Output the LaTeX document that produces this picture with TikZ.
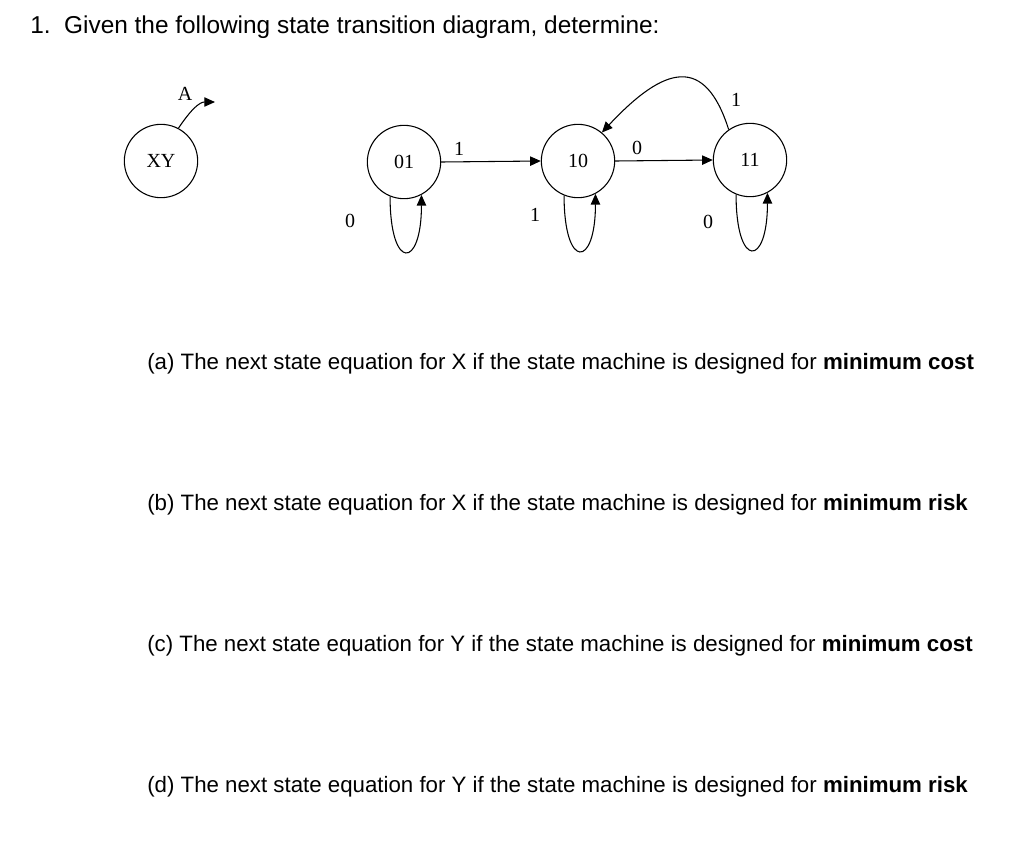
\documentclass[tikz,border=0pt]{standalone}
\usepackage{fontspec}
\setmainfont{Liberation Sans}
\newfontfamily\tnr{Liberation Serif}
\usetikzlibrary{arrows.meta}
\begin{document}
\begin{tikzpicture}[x=0.75pt,y=-0.75pt,
  st/.style={draw,circle,line width=0.8pt,minimum size=55pt,inner sep=0pt,font=\tnr\fontsize{15}{17}\selectfont},
  lbl/.style={font=\tnr\fontsize{15}{17}\selectfont,inner sep=0pt},
  q/.style={anchor=west,inner sep=0pt,font=\fontsize{16.7}{20}\selectfont},
  arr/.style={-{Triangle[length=8pt,width=7pt]},line width=0.8pt}]
\useasboundingbox (0,0) rectangle (1024,847);
\node[q,font=\fontsize{18.3}{22}\selectfont] (t) at (30,27) {1.\ \ Given the following state transition diagram, determine:};
\node[st] (xy) at (161,161) {XY};
\node[st] (s01) at (404,162) {01};
\node[st] (s10) at (578,161) {10};
\node[st] (s11) at (750,160) {11};
\coordinate (a1) at (215,102);
\draw[arr] (xy.62) .. controls (192,108) and (200,102) .. (a1);
\node[lbl] (la) at (185,94) {A};
\draw[arr] (s01.east) -- (s10.west);
\node[lbl] (l1) at (459,149) {1};
\draw[arr] (s10.east) -- (s11.west);
\node[lbl] (l2) at (637,148) {0};
\draw[arr] (s11.125) .. controls (705,55) and (665,65) .. (s10.50);
\node[lbl] (l3) at (736,100) {1};
\foreach \s/\t in {s01/0,s10/1,s11/0}{
  \draw[arr] (\s.-112) .. controls ([yshift=-56]\s.-112) and ([yshift=-56]\s.-62) .. (\s.-62);
}
\node[lbl] (l4) at (350,221) {0};
\node[lbl] (l5) at (535,215) {1};
\node[lbl] (l6) at (708,222) {0};
\node[q] (qa) at (147,364) {(a) The next state equation for X if the state machine is designed for \textbf{minimum cost}};
\node[q] (qb) at (147,505) {(b) The next state equation for X if the state machine is designed for \textbf{minimum risk}};
\node[q] (qc) at (147,646) {(c) The next state equation for Y if the state machine is designed for \textbf{minimum cost}};
\node[q] (qd) at (147,787) {(d) The next state equation for Y if the state machine is designed for \textbf{minimum risk}};
\end{tikzpicture}
\end{document}
